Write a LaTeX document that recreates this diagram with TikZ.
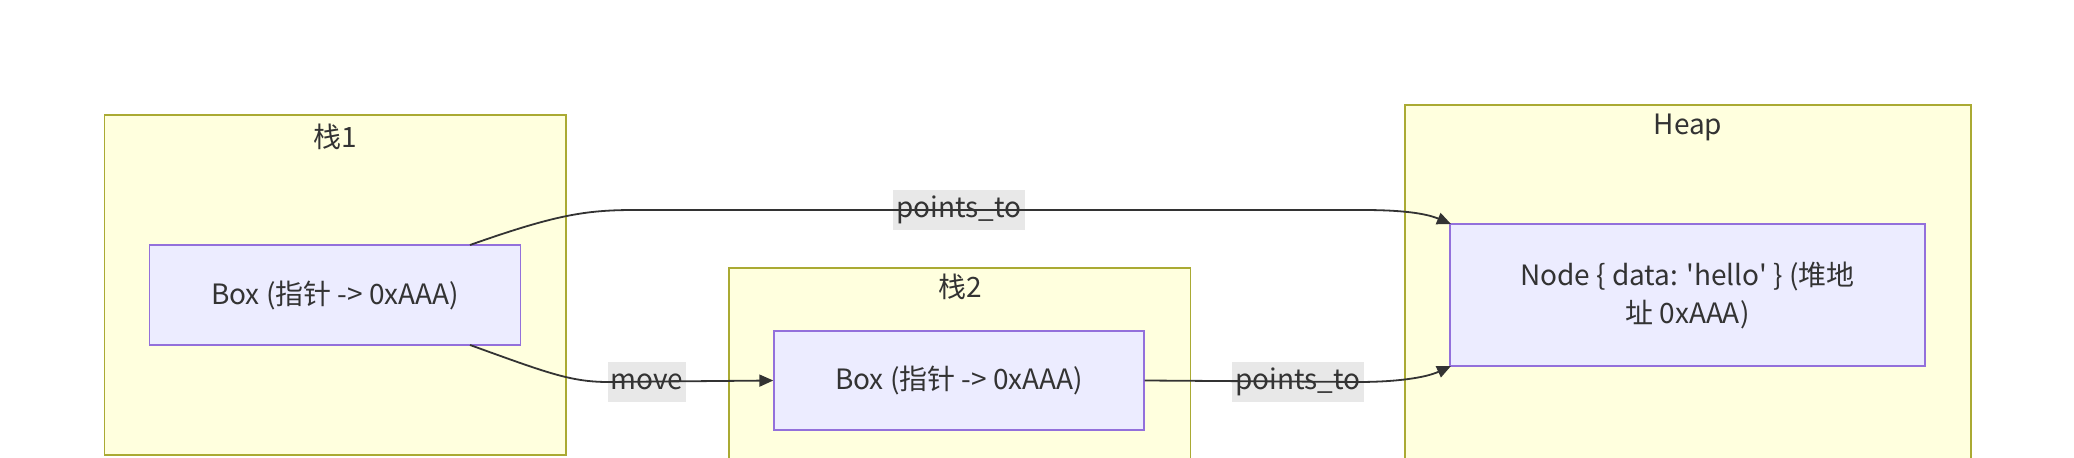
\documentclass[tikz,border=0pt]{standalone}
\usepackage{fontspec}
\setmainfont{Noto Sans CJK SC}
\usetikzlibrary{arrows.meta}
\definecolor{cf}{HTML}{FFFFDE}\definecolor{cs}{HTML}{AAAA33}
\definecolor{nf}{HTML}{ECECFF}\definecolor{ns}{HTML}{9370DB}
\definecolor{lf}{HTML}{E8E8E8}\definecolor{ln}{HTML}{333333}
\begin{document}
\begin{tikzpicture}[x=0.5pt,y=-0.5pt,
 font=\fontsize{14}{19}\selectfont,
 clu/.style={draw=cs,fill=cf,line width=0.7pt},
 nd/.style={draw=ns,fill=nf,line width=0.7pt},
 lab/.style={fill=lf,inner sep=1.5pt,text=ln,minimum height=20pt},
 ed/.style={draw=ln,line width=0.9pt,-{Triangle[length=7pt,width=6pt]}},
 txt/.style={text=ln}]
\useasboundingbox (0,0) rectangle (2074,458);
\path[clu] (104.5,115) rectangle (566,455);
\path[clu] (729,268) rectangle (1190.5,470);
\path[clu] (1405,105) rectangle (1971,470);
\node[txt] (t1) at (335,137) {栈1};
\node[txt] (t2) at (960,287) {栈2};
\node[txt] (t3) at (1688,127) {Heap};
\node[nd,minimum width=185.75pt,minimum height=50pt,txt] (b1) at (335,295) {Box (指针 -> 0xAAA)};
\node[nd,minimum width=185pt,minimum height=49.5pt,txt] (b2) at (959,380.5) {Box (指针 -> 0xAAA)};
\node[nd,minimum width=237.5pt,minimum height=71pt,txt,align=center] (hn) at (1687.5,295) {Node \{ data: \textquotesingle hello\textquotesingle\ \} (堆地\\址 0xAAA)};
\coordinate (a1) at (470,245);
\coordinate (a2) at (470,345);
\coordinate (e1) at (1451,224);
\coordinate (e2) at (1451,366);
\node[lab] (l1) at (959,210) {points\_to};
\node[lab] (l2) at (647,382) {move};
\node[lab] (l3) at (1298,382) {points\_to};
\draw[ed] (a1) .. controls (555,215) and (585,210) .. (635,210) -- (l1.west) -- (l1.east) -- (1362,210) .. controls (1400,210) and (1425,213) .. (e1);
\draw[ed] (a2) .. controls (545,372) and (570,382) .. (608,382) -- (b2.west);
\draw[ed] (b2.east) -- (1358,382) .. controls (1395,382) and (1425,378) .. (e2);
\end{tikzpicture}
\end{document}
